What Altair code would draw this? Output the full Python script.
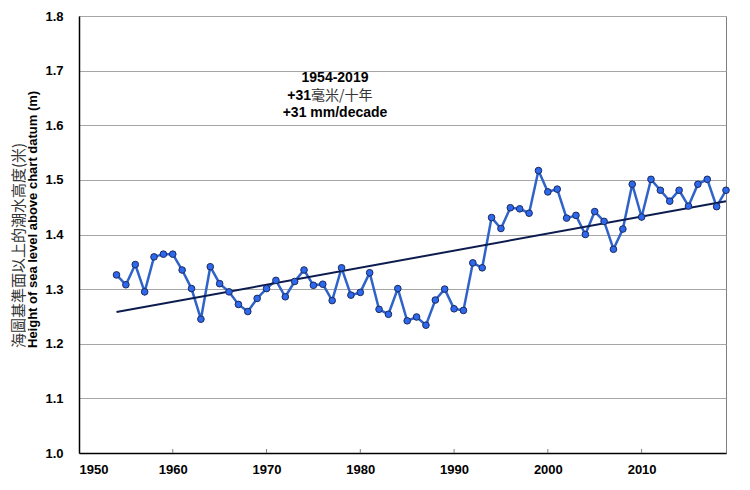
import altair as alt
import pandas as pd

# Annual mean sea level, 1954-2019 (m above chart datum)
years = list(range(1954, 2020))
levels = [
    1.326, 1.308, 1.345, 1.295, 1.359, 1.364, 1.364, 1.335, 1.301, 1.245,  # 1954-1963
    1.341, 1.310, 1.295, 1.272, 1.259, 1.283, 1.301, 1.316, 1.286, 1.314,  # 1964-1973
    1.335, 1.307, 1.309, 1.279, 1.339, 1.289, 1.294, 1.330, 1.263, 1.254,  # 1974-1983
    1.301, 1.242, 1.249, 1.234, 1.280, 1.300, 1.264, 1.261, 1.348, 1.339,  # 1984-1993
    1.431, 1.411, 1.449, 1.447, 1.439, 1.517, 1.478, 1.483, 1.430, 1.435,  # 1994-2003
    1.400, 1.442, 1.424, 1.373, 1.410, 1.492, 1.432, 1.501, 1.481, 1.461,  # 2004-2013
    1.481, 1.452, 1.492, 1.501, 1.451, 1.481,                              # 2014-2019
]

# linear trend endpoints
trend_years = [1954, 2019]
trend_levels = [1.258, 1.461]

x_ticks = [1950, 1960, 1970, 1980, 1990, 2000, 2010]
y_ticks = [1.0, 1.1, 1.2, 1.3, 1.4, 1.5, 1.6, 1.7, 1.8]

W, H = 647, 437
FONT = "Liberation Sans, Arial, sans-serif"
CJK = "Noto Sans CJK TC, sans-serif"

df = pd.DataFrame({"year": years, "level": levels})
trend = pd.DataFrame({"year": trend_years, "level": trend_levels})
ticks = pd.DataFrame({"year": x_ticks[1:]})

x_enc = alt.X(
    "year:Q",
    scale=alt.Scale(domain=[1950, 2019], nice=False, zero=False),
    axis=alt.Axis(values=x_ticks, format="d", title=None, ticks=False, tickSize=0,
                  labelPadding=10, grid=False),
)
y_enc = alt.Y(
    "level:Q",
    scale=alt.Scale(domain=[1.0, 1.8], nice=False, zero=False),
    axis=alt.Axis(values=y_ticks, format=".1f", title=None, ticks=False, tickSize=0,
                  labelPadding=16, grid=True),
)

line = alt.Chart(df).mark_line(color="#2f63c9", strokeWidth=2.5).encode(x=x_enc, y=y_enc)
points = alt.Chart(df).mark_point(
    filled=True, size=44, fill="#2d68ee", stroke="#1b2a5c", strokeWidth=1, opacity=1
).encode(x=x_enc, y=y_enc)
trend_line = alt.Chart(trend).mark_line(color="#0c1c4e", strokeWidth=2).encode(x=x_enc, y=y_enc)

# small inward ticks on the x axis
inner_ticks = alt.Chart(ticks).mark_rule(color="#808080", strokeWidth=1).encode(
    x=x_enc, y=alt.value(H), y2=alt.value(H - 4)
)


def label(text, x, y, font=FONT, weight="bold", align="center", size=14, angle=0, color="black"):
    return alt.Chart(pd.DataFrame({"t": [text]})).mark_text(
        font=font, fontWeight=weight, fontSize=size, align=align, baseline="middle",
        angle=angle, color=color
    ).encode(x=alt.value(x), y=alt.value(y), text="t:N")


texts = [
    label("1954-2019", 256, 62),
    label("+31", 232, 79.5, align="right"),
    label("毫米/十年", 232, 79.5, font=CJK, weight="normal", align="left", size=14, color="#333333"),
    label("+31 mm/decade", 256, 97),
    label("海圖基準面以上的潮水高度(米)", -60.5, 332, font=CJK, weight="normal", align="left",
          size=15, angle=270, color="#333333"),
    label("Height of sea level above chart datum (m)", -46.5, 332, align="left", size=13, angle=270),
]

chart = alt.layer(line, trend_line, points, inner_ticks, *texts).properties(
    width=W,
    height=H,
    padding={"left": 71, "top": 8, "right": 16, "bottom": 30},
    autosize=alt.AutoSizeParams(type="none"),
).configure_view(
    stroke="#808080", strokeWidth=1
).configure_axis(
    labelFont=FONT, labelFontSize=13, labelFontWeight="bold", labelColor="black",
    domainColor="black", domainWidth=1.5, gridColor="#a6a6a6", gridWidth=1
)

chart.save("out.html", embed_options={"renderer": "svg", "actions": False})
